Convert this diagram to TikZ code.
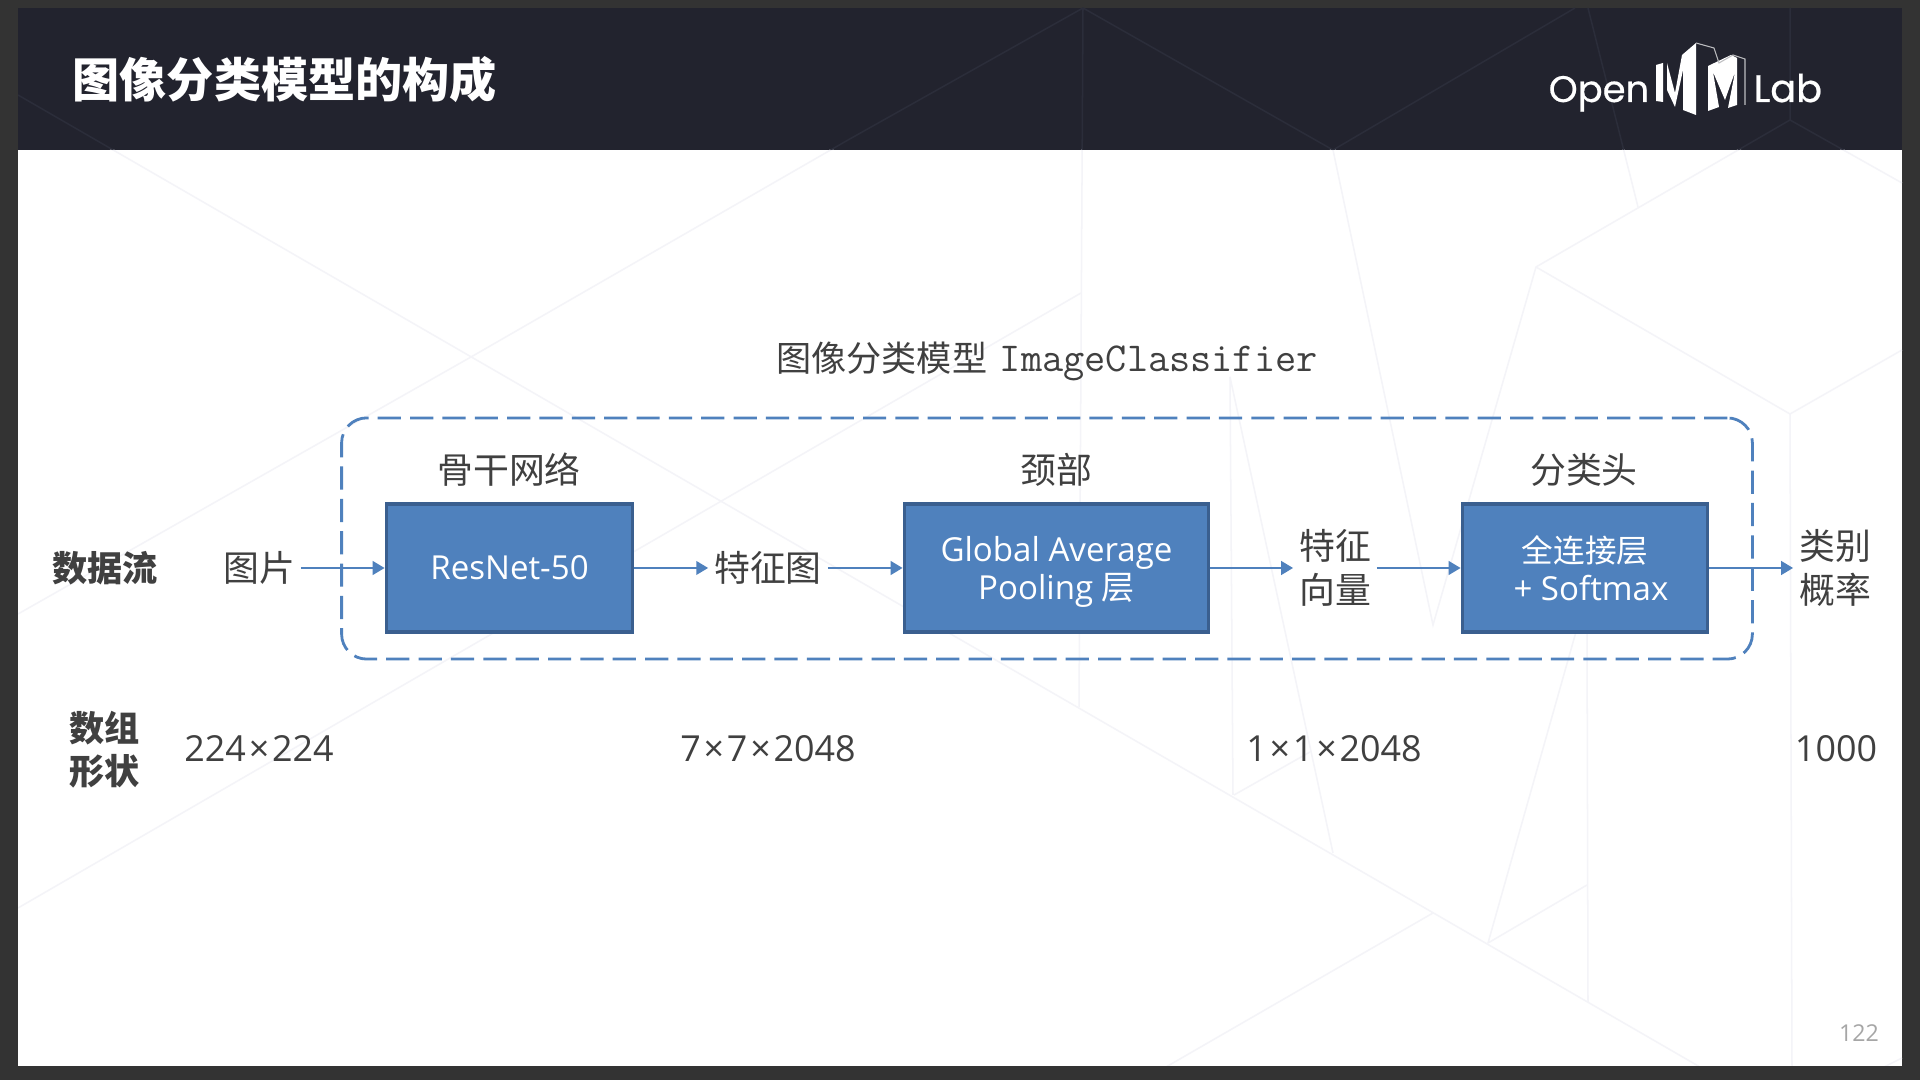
\documentclass[tikz,border=0pt]{standalone}
\usepackage{fontspec}
\setmainfont{Open Sans}
\newfontfamily\cjk{Noto Sans CJK SC}
\newfontfamily\logofont[FakeBold=.5]{Poppins}
\usetikzlibrary{arrows.meta}
\definecolor{frame}{HTML}{333333}
\definecolor{banner}{HTML}{22232E}
\definecolor{boxblue}{HTML}{4F81BD}
\definecolor{boxedge}{HTML}{3A5F8F}
\definecolor{ink}{HTML}{404040}
\definecolor{faint}{HTML}{F4F4F8}
\definecolor{faintdark}{HTML}{2B2D3A}
\newcommand{\tm}{\kern.8pt×\kern.8pt}
\newcommand{\bglines}{
\draw (18,95)--(1700,1067);
\draw (18,614)--(471,357)--(848,140)--(1083,8);
\draw (18,908)--(1081,293);
\draw (1083,8)--(1079,707);
\draw (1083,8)--(1333,150)--(1575,8);
\draw (1333,150)--(1433,625)--(1536,267)--(1790,120);
\draw (1536,267)--(1790,414)--(1902,350);
\draw (1790,414)--(1792,1067);
\draw (1790,8)--(1790,120)--(1902,183);
\draw (1588,8)--(1638,207);
\draw (1230,377)--(1233,795);
\draw (1230,377)--(1333,853);
\draw (1234,795)--(1310,752);
\draw (1488,943)--(1585,600);
\draw (1587,620)--(1588,1002);
\draw (1587,885)--(1488,943);
\draw (1433,913)--(1166,1067);
\draw (1884,1067)--(1902,1058);
}
\tikzset{
blockbox/.style={draw=boxedge,fill=boxblue,line width=1pt,text=white,minimum height=1.28cm,inner sep=0pt,align=center,font=\fontsize{9.4pt}{10.8pt}\selectfont},
lbl/.style={text=ink,inner xsep=1.5pt,inner ysep=0pt,align=center,font=\fontsize{10.2pt}{12.5pt}\selectfont},
lblcjk/.style={lbl,font=\fontsize{10.2pt}{12.5pt}\selectfont\cjk},
rowlbl/.style={lbl,font=\fontsize{10pt}{12.2pt}\selectfont\cjk\bfseries},
flow/.style={draw=boxblue,line width=.8pt,-{Triangle[length=3.4pt,width=3.8pt]}},
logotext/.style={text=white,inner sep=0pt,font=\fontsize{10.9pt}{13pt}\selectfont\logofont}
}
\begin{document}
\begin{tikzpicture}[x=0.01cm,y=-0.01cm]
\useasboundingbox (0,0) rectangle (1920,1080);
\fill[frame] (0,0) rectangle (1920,1080);
\fill[white] (18,150) rectangle (1902,1066);
\fill[banner] (18,8) rectangle (1902,150);
\begin{scope}[line width=.43pt,draw=faint]
\clip (18,150) rectangle (1902,1066);
\bglines
\end{scope}
\begin{scope}[line width=.43pt,draw=faintdark]
\clip (18,8) rectangle (1902,150);
\bglines
\end{scope}

% banner
\node[anchor=west,text=white,inner sep=0pt,font=\fontsize{13.4pt}{16pt}\selectfont\cjk\bfseries] (heading) at (72,80) {图像分类模型的构成};
\node[logotext,anchor=base west,font=\fontsize{10.5pt}{13pt}\selectfont\logofont] (open) at (1548,102) {Open};
\node[logotext,anchor=base west] (lab) at (1753,102) {Lab};
\fill[white] (1656,65)--(1663,63)--(1663,102)--(1656,101)--cycle;
\fill[white] (1667,63)--(1675,93)--(1682,55)--(1696,43)--(1696,115)--(1683,110)--(1683,70)--(1675,107)--(1667,90)--cycle;
\fill[white] (1708,66)--(1731,55)--(1737,58)--(1737,105)--(1728,108)--(1735,72)--(1725,100)--(1713,72)--(1719,107)--(1708,111)--cycle;
\draw[white!70!banner,line width=.3pt] (1696,43)--(1714,48)--(1719,63)--(1733,55)--(1745,59)--(1745,105);

% model
\node[draw=boxblue,line width=.8pt,dash pattern=on 6.6pt off 2.6pt,rounded corners=.25cm,minimum width=14.1cm,minimum height=2.41cm,inner sep=0pt] (model) at (1047,538.5) {};
\node[lbl] (modelname) at (1047,361) {\fontsize{10pt}{12.5pt}\selectfont\cjk 图像分类模型\kern3.6pt \normalfont\fontsize{11.7pt}{12.5pt}\selectfont\ttfamily ImageClassifier};

\node[blockbox,minimum width=2.46cm] (backbone) at (509.5,568) {ResNet-50};
\node[blockbox,minimum width=3.04cm] (neck) at (1056.5,568) {\rule{0pt}{9.6pt}Global Average\\Pooling {\cjk 层}};
\node[blockbox,minimum width=2.45cm] (head) at (1585,568) {{\fontsize{9pt}{10.8pt}\selectfont\cjk 全连接层}\\\hspace*{3.4pt}+ Softmax};

\node[lblcjk] (backbonename) at (509,470) {骨干网络};
\node[lblcjk] (neckname) at (1056,470) {颈部};
\node[lblcjk] (headname) at (1584,470) {分类头};

% data flow
\node[rowlbl] (flowname) at (105,568) {数据流};
\node[lblcjk] (image) at (259,568) {图片};
\node[lblcjk] (featmap) at (768,568) {特征图};
\node[lblcjk] (featvec) at (1335,568) {特征\\向量};
\node[lblcjk] (probs) at (1835,568) {类别\\概率};

\draw[flow] (image) -- (backbone);
\draw[flow] (backbone) -- (featmap);
\draw[flow] (featmap) -- (neck);
\draw[flow] (neck) -- (featvec);
\draw[flow] (featvec) -- (head);
\draw[flow] (head) -- (probs);

% shapes
\node[rowlbl] (shapename) at (105,750) {数组\\形状};
\node[lbl] (shape1) at (259,749) {224\tm 224};
\node[lbl] (shape2) at (768,749) {7\tm 7\tm 2048};
\node[lbl] (shape3) at (1334,749) {1\tm 1\tm 2048};
\node[lbl] (shape4) at (1836,749) {1000};

\node[text=black!35,inner sep=0pt,font=\fontsize{6.6pt}{8pt}\selectfont] (pagenum) at (1859,1033) {122};
\end{tikzpicture}
\end{document}
